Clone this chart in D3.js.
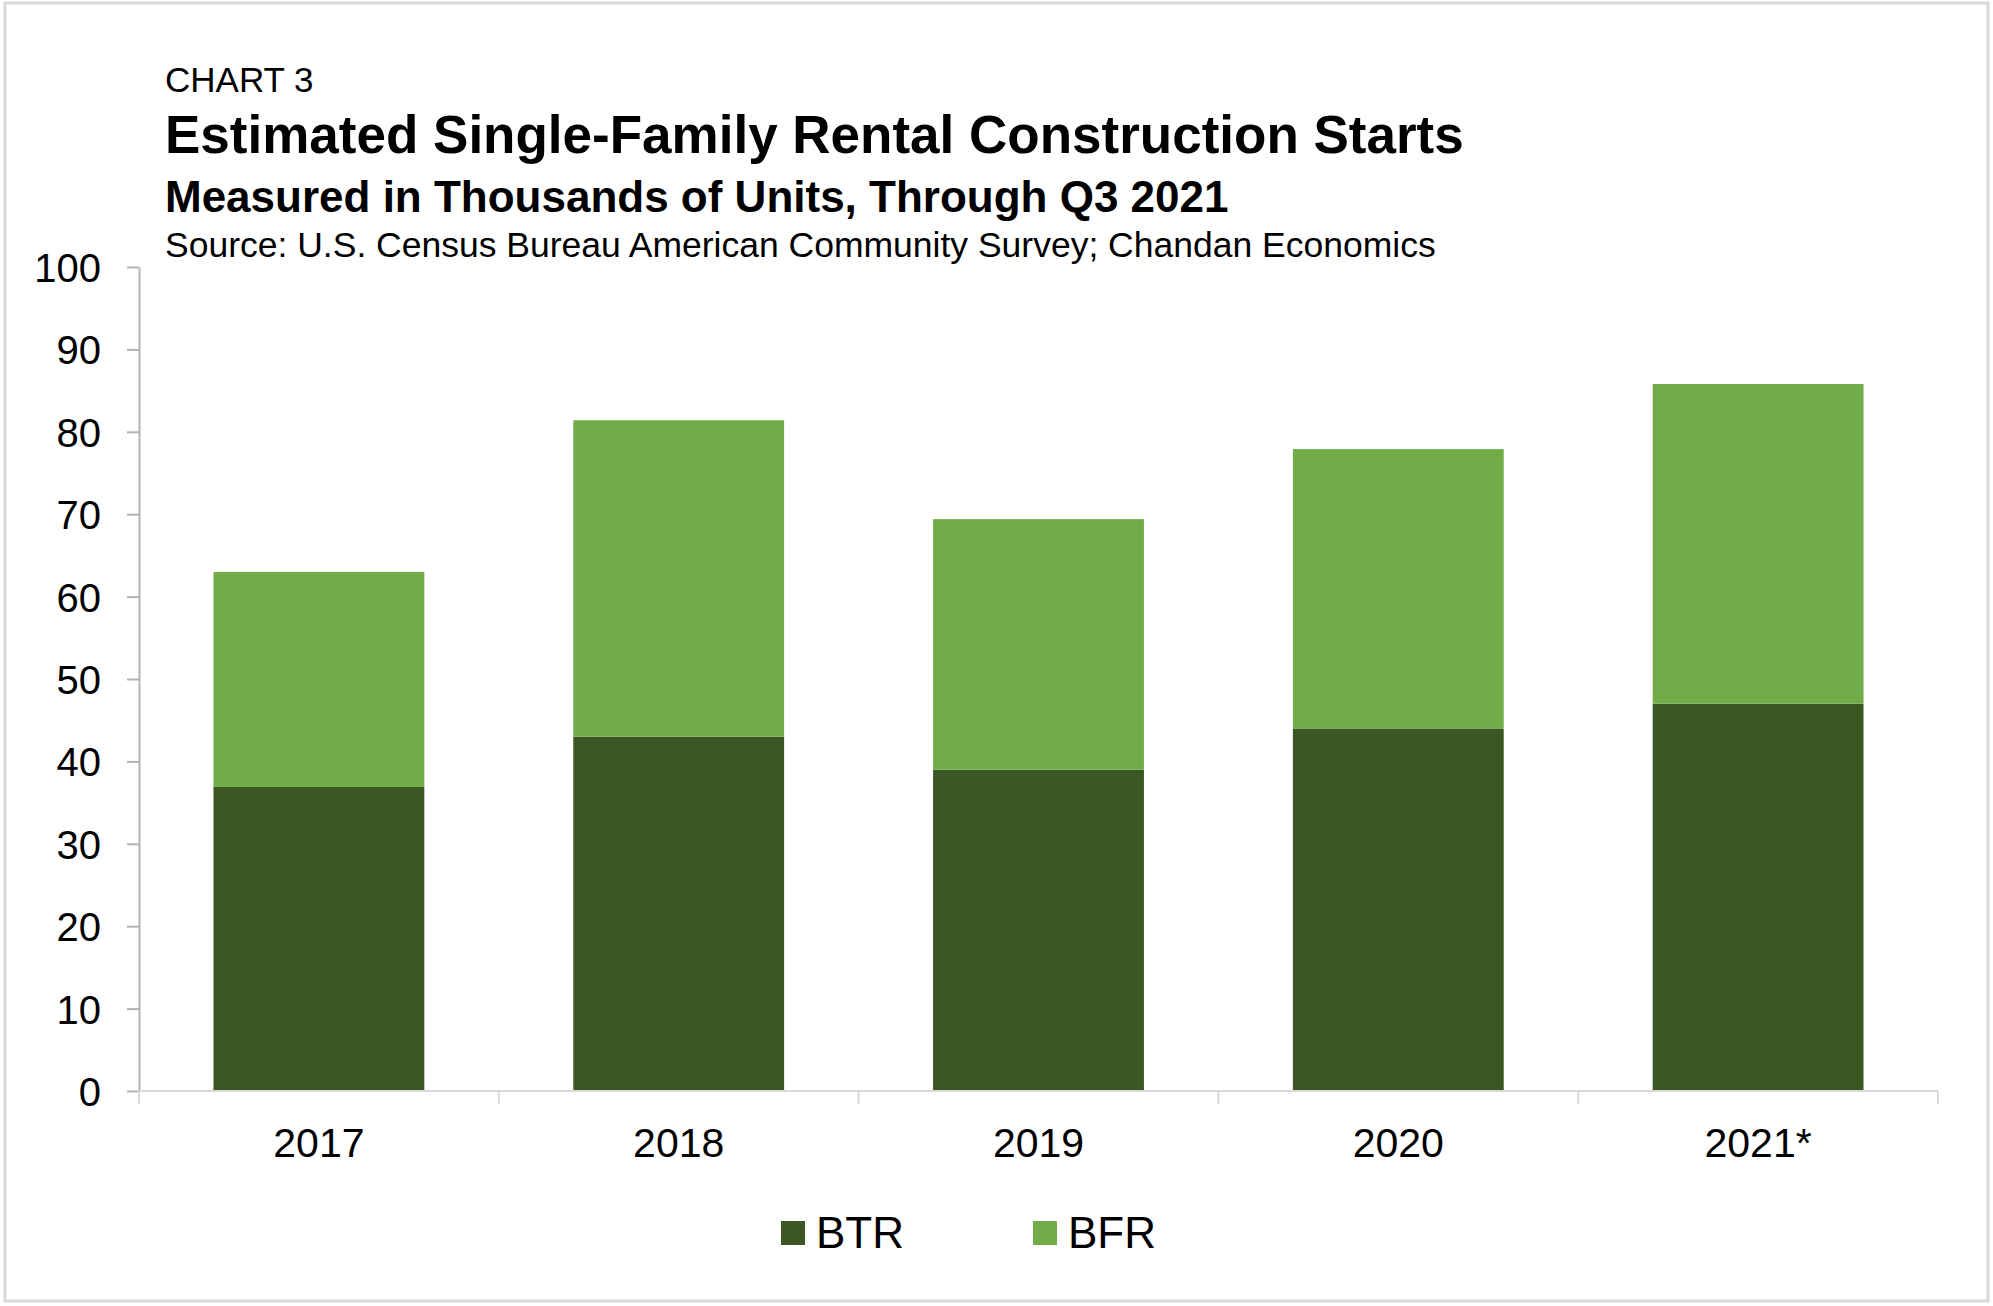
<!DOCTYPE html>
<html>
<head>
<meta charset="utf-8">
<script src="https://cdn.jsdelivr.net/npm/d3@7"></script>
<style>
  body { margin: 0; background: #fff; }
  text { font-family: "Liberation Sans", Arial, sans-serif; fill: #000; }
</style>
</head>
<body>
<svg id="chart" width="1993" height="1306"></svg>
<script>
// data (thousands of units)
const years = ["2017", "2018", "2019", "2020", "2021*"];
const btr = [36.9, 43.0, 39.0, 44.0, 47.0];
const bfr = [26.1, 38.4, 30.4, 33.9, 38.8];
const seriesNames = ["BTR", "BFR"];
const seriesColors = ["#3a5724", "#71ac49"];
const yTicks = [0, 10, 20, 30, 40, 50, 60, 70, 80, 90, 100];

const svg = d3.select("#chart"),
  W = +svg.attr("width"),
  H = +svg.attr("height");

// outer frame
svg.append("rect")
  .attr("x", 5).attr("y", 3)
  .attr("width", W - 10).attr("height", H - 8)
  .attr("fill", "#fff")
  .attr("stroke", "#d9d9d9")
  .attr("stroke-width", 3);

// titles
svg.append("text").attr("x", 165).attr("y", 92)
  .style("font-size", "35px").text("CHART 3");
svg.append("text").attr("x", 165).attr("y", 153)
  .style("font-size", "53px").style("font-weight", "bold")
  .text("Estimated Single-Family Rental Construction Starts");
svg.append("text").attr("x", 165).attr("y", 212)
  .style("font-size", "44px").style("font-weight", "bold")
  .text("Measured in Thousands of Units, Through Q3 2021");
svg.append("text").attr("x", 165).attr("y", 257)
  .style("font-size", "35.5px")
  .text("Source: U.S. Census Bureau American Community Survey; Chandan Economics");

const plot = { left: 139, right: 1938, top: 267, bottom: 1091 };

const x = d3.scaleBand()
  .domain(years)
  .range([plot.left, plot.right])
  .paddingInner(0.414)
  .paddingOuter(0.207);

const y = d3.scaleLinear()
  .domain([0, 100])
  .range([plot.bottom, plot.top]);

// stack the two series
const rows = years.map((yr, i) => ({ year: yr, BTR: btr[i], BFR: bfr[i] }));
const stacked = d3.stack().keys(seriesNames)(rows);

svg.append("g")
  .selectAll("g")
  .data(stacked)
  .enter()
  .append("g")
  .attr("fill", (d, i) => seriesColors[i])
  .selectAll("rect")
  .data((d) => d)
  .enter()
  .append("rect")
  .attr("x", (d) => x(d.data.year))
  .attr("y", (d) => y(d[1]))
  .attr("width", x.bandwidth())
  .attr("height", (d) => y(d[0]) - y(d[1]));

// y axis
const yAxis = svg.append("g")
  .attr("transform", `translate(${plot.left},0)`)
  .call(d3.axisLeft(y).tickValues(yTicks).tickSize(12).tickPadding(26).tickSizeOuter(0));
yAxis.select(".domain").attr("stroke", "#b3b3b3").attr("stroke-width", 2);
yAxis.selectAll(".tick line").attr("stroke", "#b3b3b3").attr("stroke-width", 2);
yAxis.selectAll("text").style("font-size", "40px").attr("dy", "0.36em");

// x axis with ticks at category boundaries
const step = x.step();
const boundaries = d3.range(years.length + 1).map((i) => plot.left + i * step);
const xAxis = svg.append("g")
  .attr("transform", `translate(0,${plot.bottom})`);
xAxis.append("line")
  .attr("x1", plot.left).attr("x2", plot.right)
  .attr("stroke", "#d9d9d9").attr("stroke-width", 2);
xAxis.selectAll(".bound")
  .data(boundaries)
  .enter()
  .append("line")
  .attr("class", "bound")
  .attr("x1", (d) => d).attr("x2", (d) => d)
  .attr("y1", 0).attr("y2", 13)
  .attr("stroke", "#d9d9d9").attr("stroke-width", 2);
xAxis.selectAll(".xlabel")
  .data(years)
  .enter()
  .append("text")
  .attr("class", "xlabel")
  .attr("x", (d) => x(d) + x.bandwidth() / 2)
  .attr("y", 66)
  .attr("text-anchor", "middle")
  .style("font-size", "41px")
  .text((d) => d);

// legend
const legendX = [781, 1033];
const legend = svg.append("g")
  .selectAll("g")
  .data(seriesNames)
  .enter()
  .append("g")
  .attr("transform", (d, i) => `translate(${legendX[i]},1221)`);
legend.append("rect")
  .attr("width", 24).attr("height", 24)
  .attr("fill", (d, i) => seriesColors[i]);
legend.append("text")
  .attr("x", 35).attr("y", 27)
  .style("font-size", "44px")
  .text((d) => d);
</script>
</body>
</html>
